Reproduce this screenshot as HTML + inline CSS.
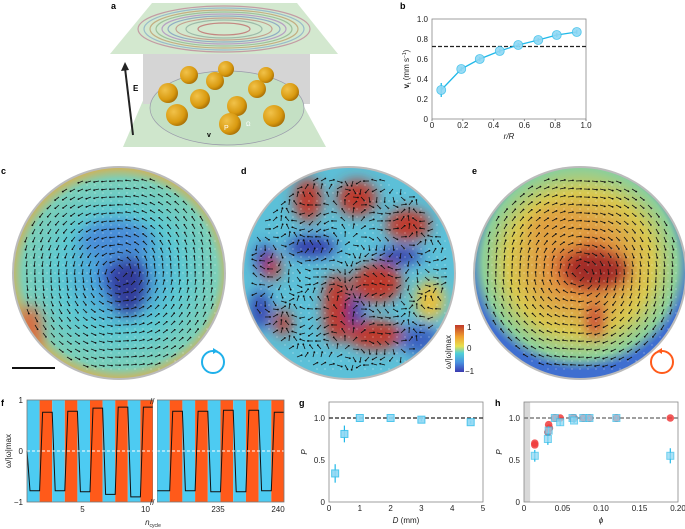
<!DOCTYPE html>
<html><head><meta charset="utf-8"><style>
html,body{margin:0;padding:0;background:#fff}
svg{display:block;font-family:"Liberation Sans",sans-serif}
.lbl{font-weight:bold;font-size:9px}
.tk{font-size:8px;fill:#222}
</style></head><body>
<svg id="fig" width="685" height="529" viewBox="0 0 685 529">
<defs>
<radialGradient id="sph" cx="0.35" cy="0.35" r="0.7"><stop offset="0" stop-color="#f1c24a"/><stop offset="0.7" stop-color="#d99a10"/><stop offset="1" stop-color="#a86f05"/></radialGradient>
<filter id="bl"><feGaussianBlur stdDeviation="7"/></filter>
<radialGradient id="gc" cx="0.5" cy="0.5" r="0.5"><stop offset="0" stop-color="#3b55c8"/><stop offset="0.25" stop-color="#4aa6da"/><stop offset="0.55" stop-color="#5cc8d2"/><stop offset="0.88" stop-color="#7ccfb8"/><stop offset="1" stop-color="#d8b050"/></radialGradient>
<radialGradient id="ge" cx="0.5" cy="0.45" r="0.5"><stop offset="0" stop-color="#c23a2a"/><stop offset="0.3" stop-color="#e09540"/><stop offset="0.65" stop-color="#d8c850"/><stop offset="0.88" stop-color="#8ccf9a"/><stop offset="1" stop-color="#3f6fd0"/></radialGradient>
<clipPath id="cc"><circle cx="119" cy="273" r="105"/></clipPath>
<clipPath id="cd"><circle cx="349" cy="273" r="105"/></clipPath>
<clipPath id="ce"><circle cx="580" cy="273" r="105"/></clipPath>
<linearGradient id="cbar" x1="0" y1="0" x2="0" y2="1"><stop offset="0" stop-color="#c0392b"/><stop offset="0.25" stop-color="#f0a030"/><stop offset="0.45" stop-color="#e8e050"/><stop offset="0.6" stop-color="#50d0d8"/><stop offset="0.8" stop-color="#4a90e0"/><stop offset="1" stop-color="#3a3ab0"/></linearGradient>
</defs>

<!-- panel a -->
<g>
<text class="lbl" x="111" y="9">a</text>
<polygon points="157,68 283,68 326,147 123,147" fill="#cfe6cc"/>
<rect x="143" y="54" width="167" height="50" fill="#d5d5d5"/>
<polygon points="152,3 297,3 338,54 110,54" fill="#d3e8cf"/>
<g fill="none" stroke-width="1.2" opacity="0.8">
<ellipse cx="224" cy="29" rx="86" ry="23" stroke="#c08a9a"/>
<ellipse cx="224" cy="29" rx="80" ry="21" stroke="#8ab0c8"/>
<ellipse cx="224" cy="29" rx="74" ry="19" stroke="#c0a070"/>
<ellipse cx="224" cy="29" rx="68" ry="17" stroke="#90b890"/>
<ellipse cx="224" cy="29" rx="62" ry="15" stroke="#b090c0"/>
<ellipse cx="224" cy="29" rx="56" ry="13" stroke="#80a0c0"/>
<ellipse cx="224" cy="29" rx="48" ry="11" stroke="#c09080"/>
<ellipse cx="224" cy="29" rx="38" ry="9" stroke="#90b0a0"/>
<ellipse cx="224" cy="29" rx="26" ry="6" stroke="#c07070"/>
</g>
<ellipse cx="227" cy="108" rx="77" ry="37" fill="#c4e0c4" stroke="#99a" stroke-width="0.7"/>
<line x1="133" y1="135" x2="125" y2="68" stroke="#222" stroke-width="2"/>
<polygon points="125,62 121,71 129,70" fill="#222"/>
<text x="133" y="91" font-size="8" font-weight="bold">E</text>
<g fill="url(#sph)">
<circle cx="189" cy="75" r="9"/><circle cx="226" cy="69" r="8"/><circle cx="266" cy="75" r="8"/>
<circle cx="215" cy="81" r="9"/><circle cx="168" cy="93" r="10"/><circle cx="200" cy="99" r="10"/>
<circle cx="257" cy="89" r="9"/><circle cx="290" cy="92" r="9"/><circle cx="237" cy="106" r="10"/>
<circle cx="177" cy="115" r="11"/><circle cx="230" cy="124" r="11"/><circle cx="274" cy="116" r="11"/>
</g>
<text x="207" y="137" font-size="7" font-weight="bold">v</text>
<text x="224" y="130" font-size="7" fill="#fff">P</text>
<text x="246" y="126" font-size="6" fill="#fff">Ω</text>
</g>

<!-- panel b -->
<g>
<text class="lbl" x="400" y="9">b</text>
<rect x="432" y="19" width="154" height="100" fill="none" stroke="#888" stroke-width="0.8"/>
<g id="bAxes"></g><g id="bMarks"></g>
<text class="tk" x="509" y="139" text-anchor="middle" font-style="italic">r/R</text>
<text class="tk" transform="translate(409,69) rotate(-90)" text-anchor="middle"><tspan font-weight="bold">v</tspan><tspan font-size="5" dy="2">t</tspan><tspan dy="-2"> (mm s</tspan><tspan font-size="5" dy="-3">−1</tspan><tspan dy="3">)</tspan></text>
</g>

<!-- panels c,d,e -->
<g>
<text class="lbl" x="1" y="174">c</text>
<circle cx="119" cy="273" r="107" fill="#bbb"/>
<g clip-path="url(#cc)"><rect x="10" y="166" width="220" height="215" fill="url(#gc)"/>
<g filter="url(#bl)"><ellipse cx="128" cy="285" rx="18" ry="30" fill="#303a9a"/><ellipse cx="115" cy="240" rx="35" ry="20" fill="#4a8ed8"/><ellipse cx="30" cy="330" rx="12" ry="25" fill="#d86a40"/></g>
<g id="arrC"></g></g>
<line x1="12" y1="368" x2="55" y2="368" stroke="#111" stroke-width="2"/>
<circle cx="213" cy="362" r="11" fill="none" stroke="#1fb0ea" stroke-width="2"/>
<polygon points="213,348 218,351 213,354" fill="#1fb0ea"/>
</g>
<g>
<text class="lbl" x="241" y="174">d</text>
<circle cx="349" cy="273" r="107" fill="#bbb"/>
<g clip-path="url(#cd)"><rect x="240" y="166" width="220" height="215" fill="#5cc0d8"/>
<g filter="url(#bl)">
<ellipse cx="308" cy="200" rx="14" ry="22" fill="#c0392b"/><ellipse cx="357" cy="198" rx="20" ry="18" fill="#c0392b"/><ellipse cx="408" cy="225" rx="22" ry="16" fill="#c0392b"/>
<ellipse cx="312" cy="247" rx="25" ry="10" fill="#3030a8"/><ellipse cx="400" cy="256" rx="22" ry="8" fill="#3030a8"/>
<ellipse cx="265" cy="260" rx="10" ry="16" fill="#3040b0"/><ellipse cx="272" cy="268" rx="9" ry="12" fill="#c0392b"/>
<ellipse cx="337" cy="308" rx="14" ry="35" fill="#c0392b"/><ellipse cx="377" cy="283" rx="25" ry="20" fill="#c0392b"/>
<ellipse cx="375" cy="335" rx="28" ry="15" fill="#c0392b"/><ellipse cx="355" cy="312" rx="7" ry="15" fill="#3030a8"/>
<ellipse cx="283" cy="323" rx="9" ry="13" fill="#c0392b"/><ellipse cx="430" cy="300" rx="15" ry="20" fill="#e8c040"/>
<ellipse cx="260" cy="310" rx="10" ry="20" fill="#3040b0"/><ellipse cx="420" cy="340" rx="20" ry="15" fill="#3a60c0"/>
</g>
<g id="arrD"></g></g>
<rect x="455" y="325" width="9" height="47" fill="url(#cbar)"/>
<text class="tk" x="467" y="330">1</text><text class="tk" x="467" y="351">0</text><text class="tk" x="465" y="374">−1</text>
<text class="tk" font-size="6" transform="translate(451,352) rotate(-90)" text-anchor="middle">ω/|ω|max</text>
</g>
<g>
<text class="lbl" x="472" y="174">e</text>
<circle cx="580" cy="273" r="107" fill="#bbb"/>
<g clip-path="url(#ce)"><rect x="470" y="166" width="220" height="215" fill="url(#ge)"/>
<g filter="url(#bl)"><ellipse cx="597" cy="270" rx="30" ry="18" fill="#a02a25"/><ellipse cx="595" cy="320" rx="8" ry="18" fill="#c84030"/><ellipse cx="560" cy="230" rx="30" ry="20" fill="#e0a040"/></g>
<g id="arrE"></g></g>
<circle cx="662" cy="362" r="11" fill="none" stroke="#ff5a1a" stroke-width="2"/>
<polygon points="662,348 657,351 662,354" fill="#ff5a1a"/>
</g>

<!-- panel f -->
<g>
<text class="lbl" x="1" y="406">f</text>
<g id="fStripes"></g><g id="fLine"></g>
<rect x="153" y="398" width="4" height="106" fill="#fff"/>
<text class="tk" x="150" y="404" font-size="7">//</text><text class="tk" x="150" y="505" font-size="7">//</text>
<text class="tk" x="23" y="403" text-anchor="end">1</text><text class="tk" x="23" y="454" text-anchor="end">0</text><text class="tk" x="23" y="505" text-anchor="end">−1</text>
<g id="fTicks"></g>
<text class="tk" x="153" y="525" text-anchor="middle" font-style="italic">n<tspan font-size="5" dy="2" font-style="normal">cycle</tspan></text>
<text class="tk" font-size="7" transform="translate(11,451) rotate(-90)" text-anchor="middle">ω/|ω|max</text>
</g>

<!-- panel g -->
<g>
<text class="lbl" x="299" y="406">g</text>
<rect x="329" y="402" width="154" height="100" fill="none" stroke="#888" stroke-width="0.8"/>
<g id="gAxes"></g><g id="gMarks"></g>
<text class="tk" x="406" y="523" text-anchor="middle"><tspan font-style="italic">D</tspan> (mm)</text>
<text class="tk" transform="translate(307,452) rotate(-90)" text-anchor="middle" font-style="italic">P</text>
</g>

<!-- panel h -->
<g>
<text class="lbl" x="495" y="406">h</text>
<g id="hAxes"></g><g id="hMarks"></g>
<rect x="524" y="402" width="154" height="100" fill="none" stroke="#888" stroke-width="0.8"/>
<text class="tk" x="601" y="523" text-anchor="middle" font-style="italic">ϕ</text>
<text class="tk" transform="translate(502,452) rotate(-90)" text-anchor="middle" font-style="italic">P</text>
</g>
</svg>
<script>
// ---- data ----
const bR = [0.06,0.19,0.31,0.44,0.56,0.69,0.81,0.94];
const bV = [0.29,0.50,0.60,0.68,0.74,0.79,0.84,0.87];
const bErr = [0.07,0.02,0.02,0.02,0.02,0.02,0.02,0.02];
const bRef = 0.725;
const bTicks = [0,0.2,0.4,0.6,0.8,1.0];
const bTickLabels = ["0","0.2","0.4","0.6","0.8","1.0"];

const fLeftLevels = [-0.78,0.76,-0.78,0.78,-0.80,0.84,-0.85,0.86,-0.90,0.86];
const fRightLevels = [-0.78,0.78,-0.78,0.78,-0.80,0.80,-0.80,0.80,-0.78,0.76];
const fLeftTicks = [5,10];
const fRightTicks = [235,240];

const gD = [0.2,0.5,1,2,3,4.6];
const gP = [0.34,0.81,1.0,1.0,0.98,0.95];
const gErr = [0.11,0.1,0.02,0.01,0.02,0.02];
const gXTicks = [0,1,2,3,4,5];
const gYTicks = [0,0.5,1.0];
const gYLabels = ["0","0.5","1.0"];

const hPhiSq = [0.014,0.031,0.032,0.040,0.047,0.063,0.065,0.077,0.085,0.12,0.19];
const hPSq = [0.55,0.75,0.85,1.0,0.95,1.0,0.97,1.0,1.0,1.0,0.55];
const hErrSq = [0.07,0.07,0.05,0.02,0.04,0.02,0.03,0.01,0.01,0.01,0.09];
const hPhiCi = [0.014,0.014,0.031,0.032,0.033,0.040,0.047,0.063,0.065,0.077,0.085,0.12,0.19];
const hPCi = [0.70,0.68,0.83,0.92,0.88,1.0,1.0,1.0,1.0,1.0,1.0,1.0,1.0];
const hXTicks = [0,0.05,0.10,0.15,0.20];
const hXLabels = ["0","0.05","0.10","0.15","0.20"];

const NS="http://www.w3.org/2000/svg";
function mk(parent,tag,attrs){const e=document.createElementNS(NS,tag);for(const k in attrs)e.setAttribute(k,attrs[k]);parent.appendChild(e);return e;}
function txt(parent,x,y,s,anchor){const t=mk(parent,'text',{x:x,y:y,'class':'tk','text-anchor':anchor});t.textContent=s;return t;}

// ---- panel b ----
(function(){
const xb=v=>432+v*154, yb=v=>119-v*100;
const ax=document.getElementById('bAxes'), m=document.getElementById('bMarks');
bTicks.forEach((t,i)=>{txt(ax,xb(t),128,bTickLabels[i],'middle');txt(ax,428,yb(t)+3,bTickLabels[i],'end');
mk(ax,'line',{x1:xb(t),y1:119,x2:xb(t),y2:121,stroke:'#888'});});
const ref=mk(m,'line',{x1:432,x2:586,y1:yb(bRef),y2:yb(bRef),stroke:'#222','stroke-width':1.3,'stroke-dasharray':'4 2'});


const pl=mk(m,'polyline',{points:bR.map((r,i)=>xb(r)+','+yb(bV[i])).join(' '),fill:'none',stroke:'#1fb8e8','stroke-width':1.3});


bR.forEach((r,i)=>{
mk(m,'line',{x1:xb(r),x2:xb(r),y1:yb(bV[i]+bErr[i]),y2:yb(bV[i]-bErr[i]),stroke:'#1fb8e8','stroke-width':1.3});
const c=mk(m,'circle',{cx:xb(r),cy:yb(bV[i]),r:4.5,fill:'#8fd8f4',stroke:'#3cc0ea','stroke-width':0.8,opacity:0.9});


});
})();

// ---- arrows in c,d,e (decorative vector field) ----
function field(id,cx,cy,dir,mode){
const g=document.getElementById(id);
for(let yy=-100;yy<=100;yy+=8)for(let xx=-100;xx<=100;xx+=8){
const r=Math.hypot(xx,yy); if(r>100)continue;
let ang;
if(mode===0){ang=Math.atan2(yy,xx)+dir*Math.PI/2;}
else{ang=Math.sin(xx*0.05)*2+Math.cos(yy*0.06)*2;}
const L=5, x0=cx+xx, y0=cy+yy, x1=x0+Math.cos(ang)*L, y1=y0+Math.sin(ang)*L;
mk(g,'line',{x1:x0,y1:y0,x2:x1,y2:y1,stroke:'#111','stroke-width':0.8});
mk(g,'circle',{cx:x1,cy:y1,r:0.9,fill:'#111'});
mk(g,'circle',{cx:x0+4,cy:y0+4,r:0.5,fill:'#fff',opacity:0.8});
}}
field('arrC',119,273,-1,0);field('arrD',349,273,1,1);field('arrE',580,273,1,0);

// ---- panel f ----
(function(){
const st=document.getElementById('fStripes'), ln=document.getElementById('fLine'), tk=document.getElementById('fTicks');
const yf=v=>451-v*51;
const segs=[{x0:27,x1:153,lv:fLeftLevels},{x0:157,x1:284,lv:fRightLevels}];
segs.forEach(s=>{
const w=(s.x1-s.x0)/s.lv.length; let pts=[]; let prev=s===segs[0]?0:s.lv[0];
s.lv.forEach((v,i)=>{
const r=mk(st,'rect',{x:s.x0+i*w,y:400,width:w,height:102,fill:v<0?'#4dcbf2':'#ff5a1a'});


pts.push((s.x0+i*w)+','+yf(prev));pts.push((s.x0+i*w+3)+','+yf(v));pts.push((s.x0+(i+1)*w)+','+yf(v));prev=v;
});
const p=mk(ln,'polyline',{points:pts.join(' '),fill:'none',stroke:'#111','stroke-width':1});


mk(ln,'line',{x1:s.x0,x2:s.x1,y1:yf(0),y2:yf(0),stroke:'#fff','stroke-width':1,'stroke-dasharray':'3 2'});
mk(ln,'rect',{x:s.x0,y:400,width:s.x1-s.x0,height:102,fill:'none',stroke:'#777','stroke-width':0.8});
});
const xl=n=>19.5+12.6*n, xr=n=>218+12*(n-235);
fLeftTicks.forEach(n=>txt(tk,xl(n),512,String(n),'middle'));
fRightTicks.forEach(n=>txt(tk,xr(n),512,String(n),'middle'));
})();

// ---- panel g ----
(function(){
const xg=v=>329+v*30.8, yg=v=>502-v*84;
const ax=document.getElementById('gAxes'), m=document.getElementById('gMarks');
gXTicks.forEach(t=>txt(ax,xg(t),511,String(t),'middle'));
gYTicks.forEach((t,i)=>txt(ax,325,yg(t)+3,gYLabels[i],'end'));
mk(m,'line',{x1:329,x2:483,y1:yg(1),y2:yg(1),stroke:'#222','stroke-width':1.3,'stroke-dasharray':'4 2'});
gD.forEach((d,i)=>{
mk(m,'line',{x1:xg(d),x2:xg(d),y1:yg(gP[i]+gErr[i]),y2:yg(gP[i]-gErr[i]),stroke:'#1fb8e8','stroke-width':1.2});
const r=mk(m,'rect',{x:xg(d)-3.5,y:yg(gP[i])-3.5,width:7,height:7,fill:'#8fd8f4',stroke:'#3cc0ea','stroke-width':1,opacity:0.9});


});
})();

// ---- panel h ----
(function(){
const xh=v=>524+v*770, yh=v=>502-v*84;
const ax=document.getElementById('hAxes'), m=document.getElementById('hMarks');
mk(ax,'rect',{x:524,y:402,width:xh(0.008)-524,height:100,fill:'#d8d8d8'});
hXTicks.forEach((t,i)=>txt(ax,xh(t),511,hXLabels[i],'middle'));
gYTicks.forEach((t,i)=>txt(ax,520,yh(t)+3,gYLabels[i],'end'));
mk(m,'line',{x1:524,x2:678,y1:yh(1),y2:yh(1),stroke:'#666','stroke-width':1.2,'stroke-dasharray':'4 2'});
hPhiCi.forEach((p,i)=>{
const c=mk(m,'circle',{cx:xh(p),cy:yh(hPCi[i]),r:3.8,fill:'#f03c3c',opacity:0.85});


});
hPhiSq.forEach((p,i)=>{
mk(m,'line',{x1:xh(p),x2:xh(p),y1:yh(hPSq[i]+hErrSq[i]),y2:yh(hPSq[i]-hErrSq[i]),stroke:'#1fb8e8','stroke-width':1.2});
const r=mk(m,'rect',{x:xh(p)-3.5,y:yh(hPSq[i])-3.5,width:7,height:7,fill:'#8fd8f4',stroke:'#3cc0ea','stroke-width':1,opacity:0.75});


});
})();
</script>
</body></html>
